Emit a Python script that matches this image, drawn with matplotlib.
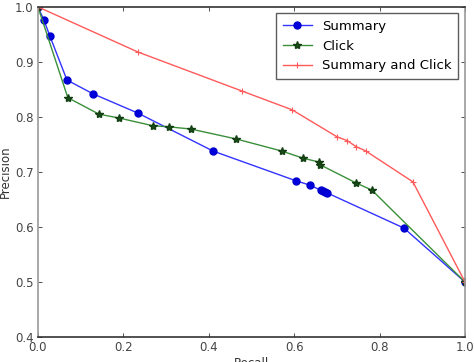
import matplotlib
matplotlib.use("Agg")
import matplotlib.pyplot as plt

summary_recall = [0.0, 0.014, 0.028, 0.068, 0.129, 0.234, 0.41, 0.604, 0.637, 0.662, 0.667, 0.672, 0.677, 0.857, 1.0]
summary_prec = [1.0, 0.976, 0.947, 0.867, 0.842, 0.807, 0.738, 0.684, 0.676, 0.667, 0.665, 0.664, 0.662, 0.598, 0.5]

click_recall = [0.0, 0.070, 0.143, 0.19, 0.269, 0.307, 0.358, 0.464, 0.571, 0.621, 0.658, 0.661, 0.745, 0.782, 1.0]
click_prec = [1.0, 0.835, 0.805, 0.798, 0.784, 0.782, 0.778, 0.760, 0.738, 0.725, 0.718, 0.713, 0.680, 0.667, 0.5]

both_recall = [0.0, 0.234, 0.478, 0.595, 0.70, 0.724, 0.745, 0.768, 0.878, 1.0]
both_prec = [1.0, 0.918, 0.847, 0.813, 0.764, 0.757, 0.746, 0.738, 0.682, 0.5]

x_ticks = [0.0, 0.2, 0.4, 0.6, 0.8, 1.0]
y_ticks = [0.4, 0.5, 0.6, 0.7, 0.8, 0.9, 1.0]

fig = plt.figure(figsize=(4.74, 3.62), dpi=100)
ax = fig.add_axes([0.080, 0.069, 0.901, 0.912])

ax.plot(summary_recall, summary_prec, color="#3333ff", marker="o", markersize=5,
        linewidth=1.0, markeredgecolor="#0000cc", markerfacecolor="#0000dd",
        label="Summary")
ax.plot(click_recall, click_prec, color="#3a8f3a", marker="*", markersize=6,
        linewidth=1.0, markeredgecolor="#123f12", markerfacecolor="#1a4a1a",
        label="Click")
ax.plot(both_recall, both_prec, color="#ff5a5a", marker="+", markersize=4.5,
        linewidth=1.0, markeredgewidth=0.8, markeredgecolor="#ff5a5a",
        label="Summary and Click")

ax.set_xlim(0, 1.0)
ax.set_ylim(0.4, 1.0)
ax.set_xticks(x_ticks)
ax.set_yticks(y_ticks)
ax.set_xticklabels([f"{v:.1f}" for v in x_ticks])
ax.set_yticklabels([f"{v:.1f}" for v in y_ticks])
ax.tick_params(direction="in", top=True, right=True, labelsize=8.5, colors="#333333",
               length=3, width=0.6, pad=3)
ax.tick_params(axis="both", labelcolor="#444444")
for side in ["left", "right"]:
    ax.spines[side].set_color("#999999")
    ax.spines[side].set_linewidth(1.2)
for side in ["top", "bottom"]:
    ax.spines[side].set_color("#333333")
    ax.spines[side].set_linewidth(1.2)

ax.set_xlabel("Recall", fontsize=8.5, color="#333333", labelpad=2)
ax.set_ylabel("Precision", fontsize=8.5, color="#333333", labelpad=2)

leg = ax.legend(loc="upper right", fontsize=9.5, frameon=True, fancybox=False,
                borderaxespad=0.5, handlelength=2.2, labelspacing=0.5,
                borderpad=0.5)
leg.get_frame().set_edgecolor("#333333")
leg.get_frame().set_linewidth(1.0)

fig.savefig("out.png", dpi=100)
